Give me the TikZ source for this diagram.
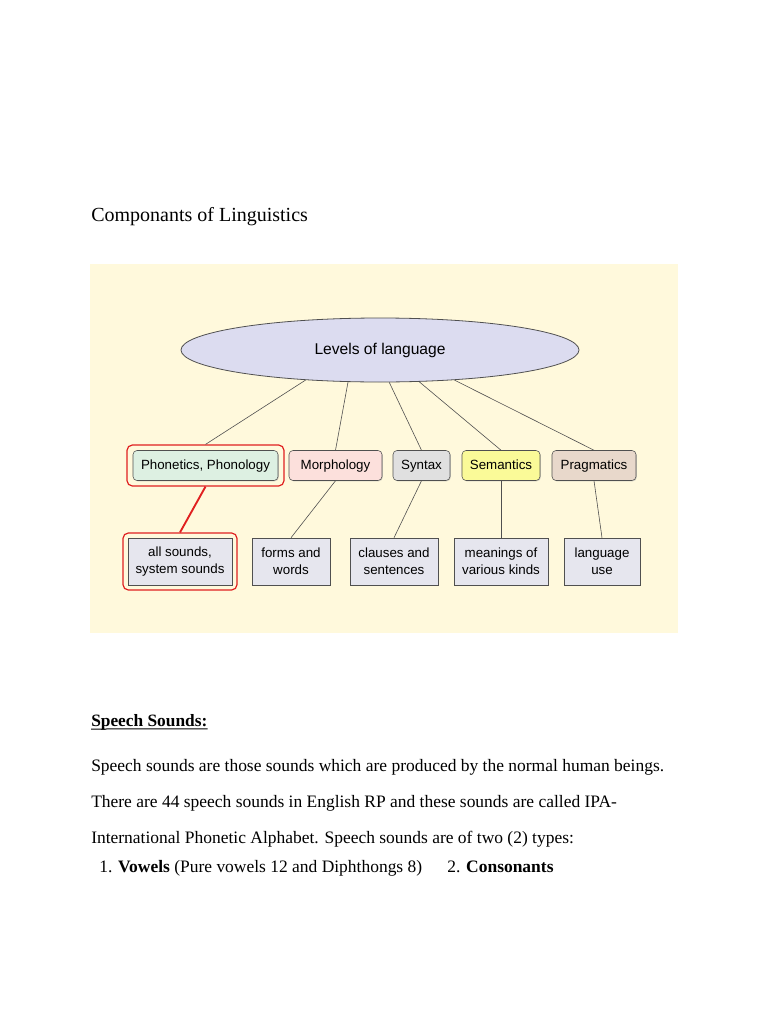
\documentclass[tikz,border=0pt]{standalone}
\usepackage{fontspec}
\setmainfont{Liberation Serif}
\newfontfamily\diagfont{Liberation Sans}
\usetikzlibrary{shapes.geometric,shadows}

\definecolor{panel}{HTML}{FFF9DC}
\definecolor{levelsfill}{HTML}{DCDCF0}
\definecolor{phonfill}{HTML}{DDF0E2}
\definecolor{morphfill}{HTML}{FCE0DC}
\definecolor{syntfill}{HTML}{E0E0E0}
\definecolor{semfill}{HTML}{FAFA98}
\definecolor{pragfill}{HTML}{E8D8CB}
\definecolor{leaffill}{HTML}{E6E6EE}
\definecolor{edgegray}{HTML}{505050}
\definecolor{markred}{HTML}{E02020}

\tikzset{
  level/.style={draw=edgegray, rounded corners=3pt, minimum height=22.5pt,
    inner sep=0pt, text height=7.6pt, text depth=2.2pt,
    font=\diagfont\fontsize{10}{12}\selectfont,
    drop shadow={shadow xshift=0.6pt, shadow yshift=-0.6pt, fill=gray!70}},
  leaf/.style={draw=edgegray, fill=leaffill, minimum height=35.25pt, inner sep=0pt,
    align=center, font=\diagfont\fontsize{10}{12.5}\selectfont,
    drop shadow={shadow xshift=0.6pt, shadow yshift=-0.6pt, fill=gray!70}},
  markframe/.style={draw=markred, line width=0.9pt, rounded corners=4pt, inner sep=0pt},
  link/.style={draw=edgegray, line width=0.45pt},
  marklink/.style={draw=markred, line width=1.4pt},
  bodytext/.style={anchor=base west, inner sep=0pt, font=\fontsize{13.1}{15}\selectfont}
}

\begin{document}
\begin{tikzpicture}[x=0.75pt,y=-0.75pt]

  \fill[white] (0,0) rectangle (768,1024);
  \useasboundingbox (0,0) rectangle (768,1024);

  % page text above the chart
  \node[bodytext, font=\fontsize{15}{17}\selectfont] (title) at (91,221) {Componants of Linguistics};

  % chart panel
  \fill[panel] (90,264) rectangle (678,633);

  \node[ellipse, draw=edgegray, line width=0.6pt, fill=levelsfill, minimum width=298.5pt, minimum height=48pt,
    inner sep=0pt, font=\diagfont\fontsize{11.7}{13}\selectfont] (levels) at (380,350) {Levels of language};

  % red marks
  \node[markframe, minimum width=117.75pt, minimum height=30.75pt] (phonframe) at (205.5,465.5) {};
  \node[markframe, minimum width=85.5pt, minimum height=42.75pt] (soundsframe) at (180,561.5) {};

  \node[level, fill=phonfill, minimum width=108.75pt] (phon)  at (205.5,465.5) {Phonetics, Phonology};
  \node[level, fill=morphfill, minimum width=69.75pt] (morph) at (335.5,465.5) {Morphology};
  \node[level, fill=syntfill, minimum width=42.75pt]  (synt)  at (421.5,465.5) {Syntax};
  \node[level, fill=semfill, minimum width=58.5pt]    (sem)   at (501,465.5)   {Semantics};
  \node[level, fill=pragfill, minimum width=63pt]     (prag)  at (594,465.5)   {Pragmatics};

  \node[leaf, minimum width=78pt]   (sounds)   at (180,561.5) {all sounds,\\system sounds};
  \node[leaf, minimum width=58.5pt] (forms)    at (291,561.5) {forms and\\words};
  \node[leaf, minimum width=66pt]   (clauses)  at (394,561.5) {clauses and\\sentences};
  \node[leaf, minimum width=70.5pt] (meanings) at (501,561.5) {meanings of\\various kinds};
  \node[leaf, minimum width=57pt]   (use)      at (602,561.5) {language\\use};

  \path (levels.202) edge[link] (phonframe.north);
  \path (levels.225) edge[link] (morph.north);
  \path (levels.286) edge[link] (synt.north);
  \path (levels.321) edge[link] (sem.north);
  \path (levels.338) edge[link] (prag.north);

  \path (phonframe.south) edge[marklink] (soundsframe.north);
  \path (morph.south) edge[link] (forms.north);
  \path (synt.south)  edge[link] (clauses.north);
  \path (sem.south)   edge[link] (meanings.north);
  \path (prag.south)  edge[link] (use.north);

  % page text below the chart
  \node[bodytext, font=\fontsize{13}{15}\selectfont] (heading) at (91,726) {\textbf{Speech Sounds:}};
  \draw[line width=0.75pt] (heading.base west) ++(0,3) -- ([yshift=-2.2pt]heading.base east);
  \node[bodytext] (lineone)   at (91,771) {Speech sounds are those sounds which are produced by the normal human beings.};
  \node[bodytext] (linetwo)   at (91,807) {There are 44 speech sounds in English RP and these sounds are called IPA-};
  \node[bodytext] (linethree) at (91,843) {International Phonetic Alphabet. Speech sounds are of two (2) types:};
  \node[bodytext] (typeone)   at (99,872) {1. \textbf{Vowels} (Pure vowels 12 and Diphthongs 8)};
  \node[bodytext] (typetwo)   at (447,872) {2. \textbf{Consonants}};

\end{tikzpicture}
\end{document}
